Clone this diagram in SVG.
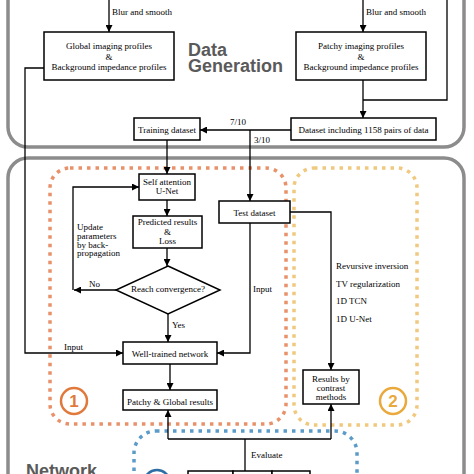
<svg xmlns="http://www.w3.org/2000/svg" width="474" height="474" viewBox="0 0 474 474">
<defs>
<marker id="ah" viewBox="0 0 10 10" refX="10" refY="5" markerWidth="8" markerHeight="7" markerUnits="userSpaceOnUse" orient="auto"><path d="M0,0 L10,5 L0,10 z" fill="#000"/></marker>
</defs>
<style>
.panel{fill:none;stroke:#8c8c8c;stroke-width:3.5}
.box{fill:#fff;stroke:#000;stroke-width:1.5}
.ln{fill:none;stroke:#000;stroke-width:1.3}
.t{font-family:"Liberation Serif","Times New Roman",serif;font-size:9px;fill:#000}
.c{text-anchor:middle}
.big{font-family:"Liberation Sans",Arial,sans-serif;font-weight:bold;font-size:18px;fill:#5a5a5a}
.dot{fill:none;stroke-width:3.5;stroke-dasharray:3.5 5}
.num{font-family:"Liberation Sans",Arial,sans-serif;font-weight:bold;font-size:17px;text-anchor:middle}
</style>
<rect width="474" height="474" fill="#fff"/>
<g id="panels">
<rect class="panel" x="8" y="-30" width="456" height="177" rx="20"/>
<rect class="panel" x="8" y="158" width="456" height="360" rx="20"/>
<text class="big" x="188" y="56">Data</text>
<text class="big" x="188" y="72">Generation</text>
<text class="big" x="26" y="477">Network</text>
</g>
<g id="regions">
<rect class="dot" x="50" y="168" width="236" height="256" rx="20" stroke="#E8916A"/>
<rect class="dot" x="294" y="168" width="123" height="257" rx="20" stroke="#F0C97E"/>
<rect class="dot" x="134" y="431" width="223" height="120" rx="22" stroke="#5B9BC8"/>
<g id="c1"><circle cx="74" cy="401" r="13" fill="none" stroke="#E07A3C" stroke-width="2.5"/><text class="num" x="74" y="407" fill="#E07A3C">1</text></g>
<g id="c2"><circle cx="393" cy="401" r="13" fill="none" stroke="#E9A93C" stroke-width="2.5"/><text class="num" x="393" y="407" fill="#E9A93C">2</text></g>
<g id="c3"><circle cx="157" cy="483" r="13" fill="none" stroke="#2F6EA5" stroke-width="2.5"/><text class="num" x="157" y="489" fill="#2F6EA5">3</text></g>
</g>
<g id="connectors">
<path class="ln" d="M109,0 V32" marker-end="url(#ah)"/>
<path class="ln" d="M363,0 V32" marker-end="url(#ah)"/>
<path class="ln" d="M447,0 V100 H363"/>
<path class="ln" d="M363,80 V118" marker-end="url(#ah)"/>
<path class="ln" d="M44,68 H25 V353 H123" marker-end="url(#ah)"/>
<path class="ln" d="M291,130 H200" marker-end="url(#ah)"/>
<path class="ln" d="M250,130 V201" marker-end="url(#ah)"/>
<path class="ln" d="M167,140 V174" marker-end="url(#ah)"/>
<path class="ln" d="M167,200 V216" marker-end="url(#ah)"/>
<path class="ln" d="M167,248 V266" marker-end="url(#ah)"/>
<path class="ln" d="M116,290 H74" marker-end="url(#ah)"/>
<path class="ln" d="M73,290 V187 H139" marker-end="url(#ah)"/>
<path class="ln" d="M168,314 V342" marker-end="url(#ah)"/>
<path class="ln" d="M250,223 V353 H217" marker-end="url(#ah)"/>
<path class="ln" d="M290,212 H331 V370" marker-end="url(#ah)"/>
<path class="ln" d="M170,364 V390" marker-end="url(#ah)"/>
<path class="ln" d="M245,471 V439"/>
<path class="ln" d="M168,439 H331"/>
<path class="ln" d="M168,439 V410" marker-end="url(#ah)"/>
<path class="ln" d="M331,439 V404" marker-end="url(#ah)"/>
<text class="t" x="112" y="15">Blur and smooth</text>
<text class="t" x="366" y="15">Blur and smooth</text>
<text class="t" x="230" y="125">7/10</text>
<text class="t" x="254" y="143">3/10</text>
<text class="t" x="89" y="287">No</text>
<text class="t" x="172" y="328">Yes</text>
<text class="t" x="64" y="350">Input</text>
<text class="t" x="253" y="292">Input</text>
<text class="t" x="251" y="458">Evaluate</text>
<text class="t" x="77" y="230" font-size="8.5">Update</text>
<text class="t" x="77" y="239" font-size="8.5">parameters</text>
<text class="t" x="77" y="247.5" font-size="8.5">by back-</text>
<text class="t" x="77" y="256" font-size="8.5">propagation</text>
<text class="t" x="336" y="269">Revursive inversion</text>
<text class="t" x="336" y="287">TV regularization</text>
<text class="t" x="336" y="304">1D TCN</text>
<text class="t" x="336" y="322">1D U-Net</text>
</g>
<g id="global"><rect class="box" x="44" y="32" width="130" height="48"/><text class="t c" x="109" y="49">Global imaging profiles</text><text class="t c" x="109" y="60">&amp;</text><text class="t c" x="109" y="70">Background impedance profiles</text></g>
<g id="patchy"><rect class="box" x="296" y="32" width="130" height="48"/><text class="t c" x="361" y="49">Patchy imaging profiles</text><text class="t c" x="361" y="60">&amp;</text><text class="t c" x="361" y="70">Background impedance profiles</text></g>
<g id="dataset"><rect class="box" x="291" y="118" width="145" height="22"/><text class="t c" x="363.5" y="133">Dataset including 1158 pairs of data</text></g>
<g id="training"><rect class="box" x="134" y="118" width="66" height="22"/><text class="t c" x="167" y="133">Training dataset</text></g>
<g id="unet"><rect class="box" x="139" y="174" width="56" height="26"/><text class="t c" x="167" y="185">Self attention</text><text class="t c" x="167" y="194">U-Net</text></g>
<g id="predicted"><rect class="box" x="133" y="216" width="69" height="32"/><text class="t c" x="167.5" y="225">Predicted results</text><text class="t c" x="167.5" y="235">&amp;</text><text class="t c" x="167.5" y="244">Loss</text></g>
<g id="convergence"><polygon class="box" points="168,266 220,290 168,314 116,290"/><text class="t c" x="168" y="292">Reach convergence?</text></g>
<g id="test"><rect class="box" x="219" y="201" width="71" height="22"/><text class="t c" x="254.5" y="216">Test dataset</text></g>
<g id="welltrained"><rect class="box" x="123" y="342" width="94" height="22"/><text class="t c" x="170" y="357">Well-trained network</text></g>
<g id="results"><rect class="box" x="123" y="390" width="94" height="20"/><text class="t c" x="170" y="405">Patchy &amp; Global results</text></g>
<g id="contrast"><rect class="box" x="303" y="370" width="56" height="34"/><text class="t c" x="331" y="382">Results by</text><text class="t c" x="331" y="391">contrast</text><text class="t c" x="331" y="400">methods</text></g>
<g id="bottom1"><rect class="box" x="188" y="471" width="45" height="20"/></g>
<g id="bottom2"><rect class="box" x="233" y="471" width="39" height="20"/></g>
<g id="bottom3"><rect class="box" x="272" y="471" width="38" height="20"/></g>
</svg>
